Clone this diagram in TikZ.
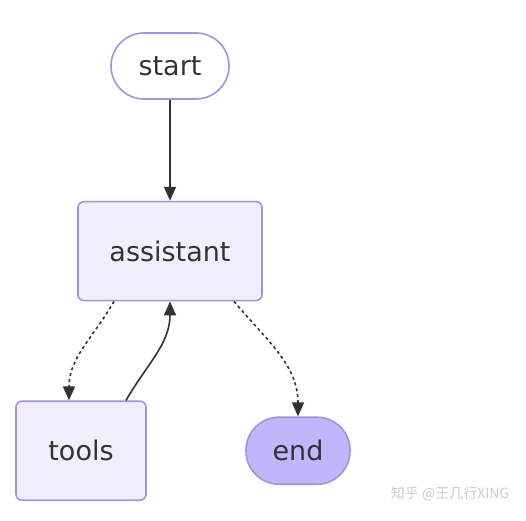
\documentclass[tikz,border=0pt]{standalone}
\usepackage{fontspec}
\setmainfont{DejaVu Sans}
\newfontfamily\cjkfont{Noto Sans CJK SC}
\usetikzlibrary{positioning,arrows.meta}

\definecolor{nodeline}{RGB}{165,145,222}
\definecolor{nodefill}{RGB}{241,238,255}
\definecolor{endfill}{RGB}{191,182,252}
\definecolor{linkcol}{RGB}{51,51,51}

\tikzset{
	stadium/.style={draw=nodeline, line width=1.6pt, rounded corners=33pt,
		minimum width=118pt, minimum height=66pt, font=\fontsize{27}{30}\selectfont, text=linkcol},
	stepbox/.style={draw=nodeline, fill=nodefill, line width=1.6pt, rounded corners=6pt,
		minimum height=99pt, font=\fontsize{27}{30}\selectfont, text=linkcol},
	link/.style={draw=linkcol, line width=1.6pt, -{Triangle[length=14pt,width=12pt]}},
	condlink/.style={link, dash pattern=on 3pt off 3pt},
}

\begin{document}
\begin{tikzpicture}[x=1pt,y=1pt]
		\useasboundingbox (0,0) rectangle (526,-520);

		\node(start)[stadium, fill=white] at (170,-66){start};
		\node(assistant)[stepbox, minimum width=184pt, below=101pt of start]{assistant};
		\node(tools)[stepbox, minimum width=130pt, below=99pt of assistant, xshift=-89pt]{tools};
		\node(end)[stadium, fill=endfill, minimum width=104pt, minimum height=67pt,
			below=115pt of assistant, xshift=128pt]{end};

		\draw[link] (start) -- (assistant);
		\draw[condlink] ([xshift=-56pt]assistant.south) to[out=-120, in=90] ([xshift=-12pt]tools.north);
		\draw[link] ([xshift=45pt]tools.north) to[out=60, in=-90] (assistant.south);
		\draw[condlink] ([xshift=64pt]assistant.south) to[out=-50, in=90] (end.north);

		\node(mark)[text=black!20, font=\cjkfont\fontsize{14}{16}\selectfont] at (450,-494){知乎 @王几行XING};
	\end{tikzpicture}
\end{document}
